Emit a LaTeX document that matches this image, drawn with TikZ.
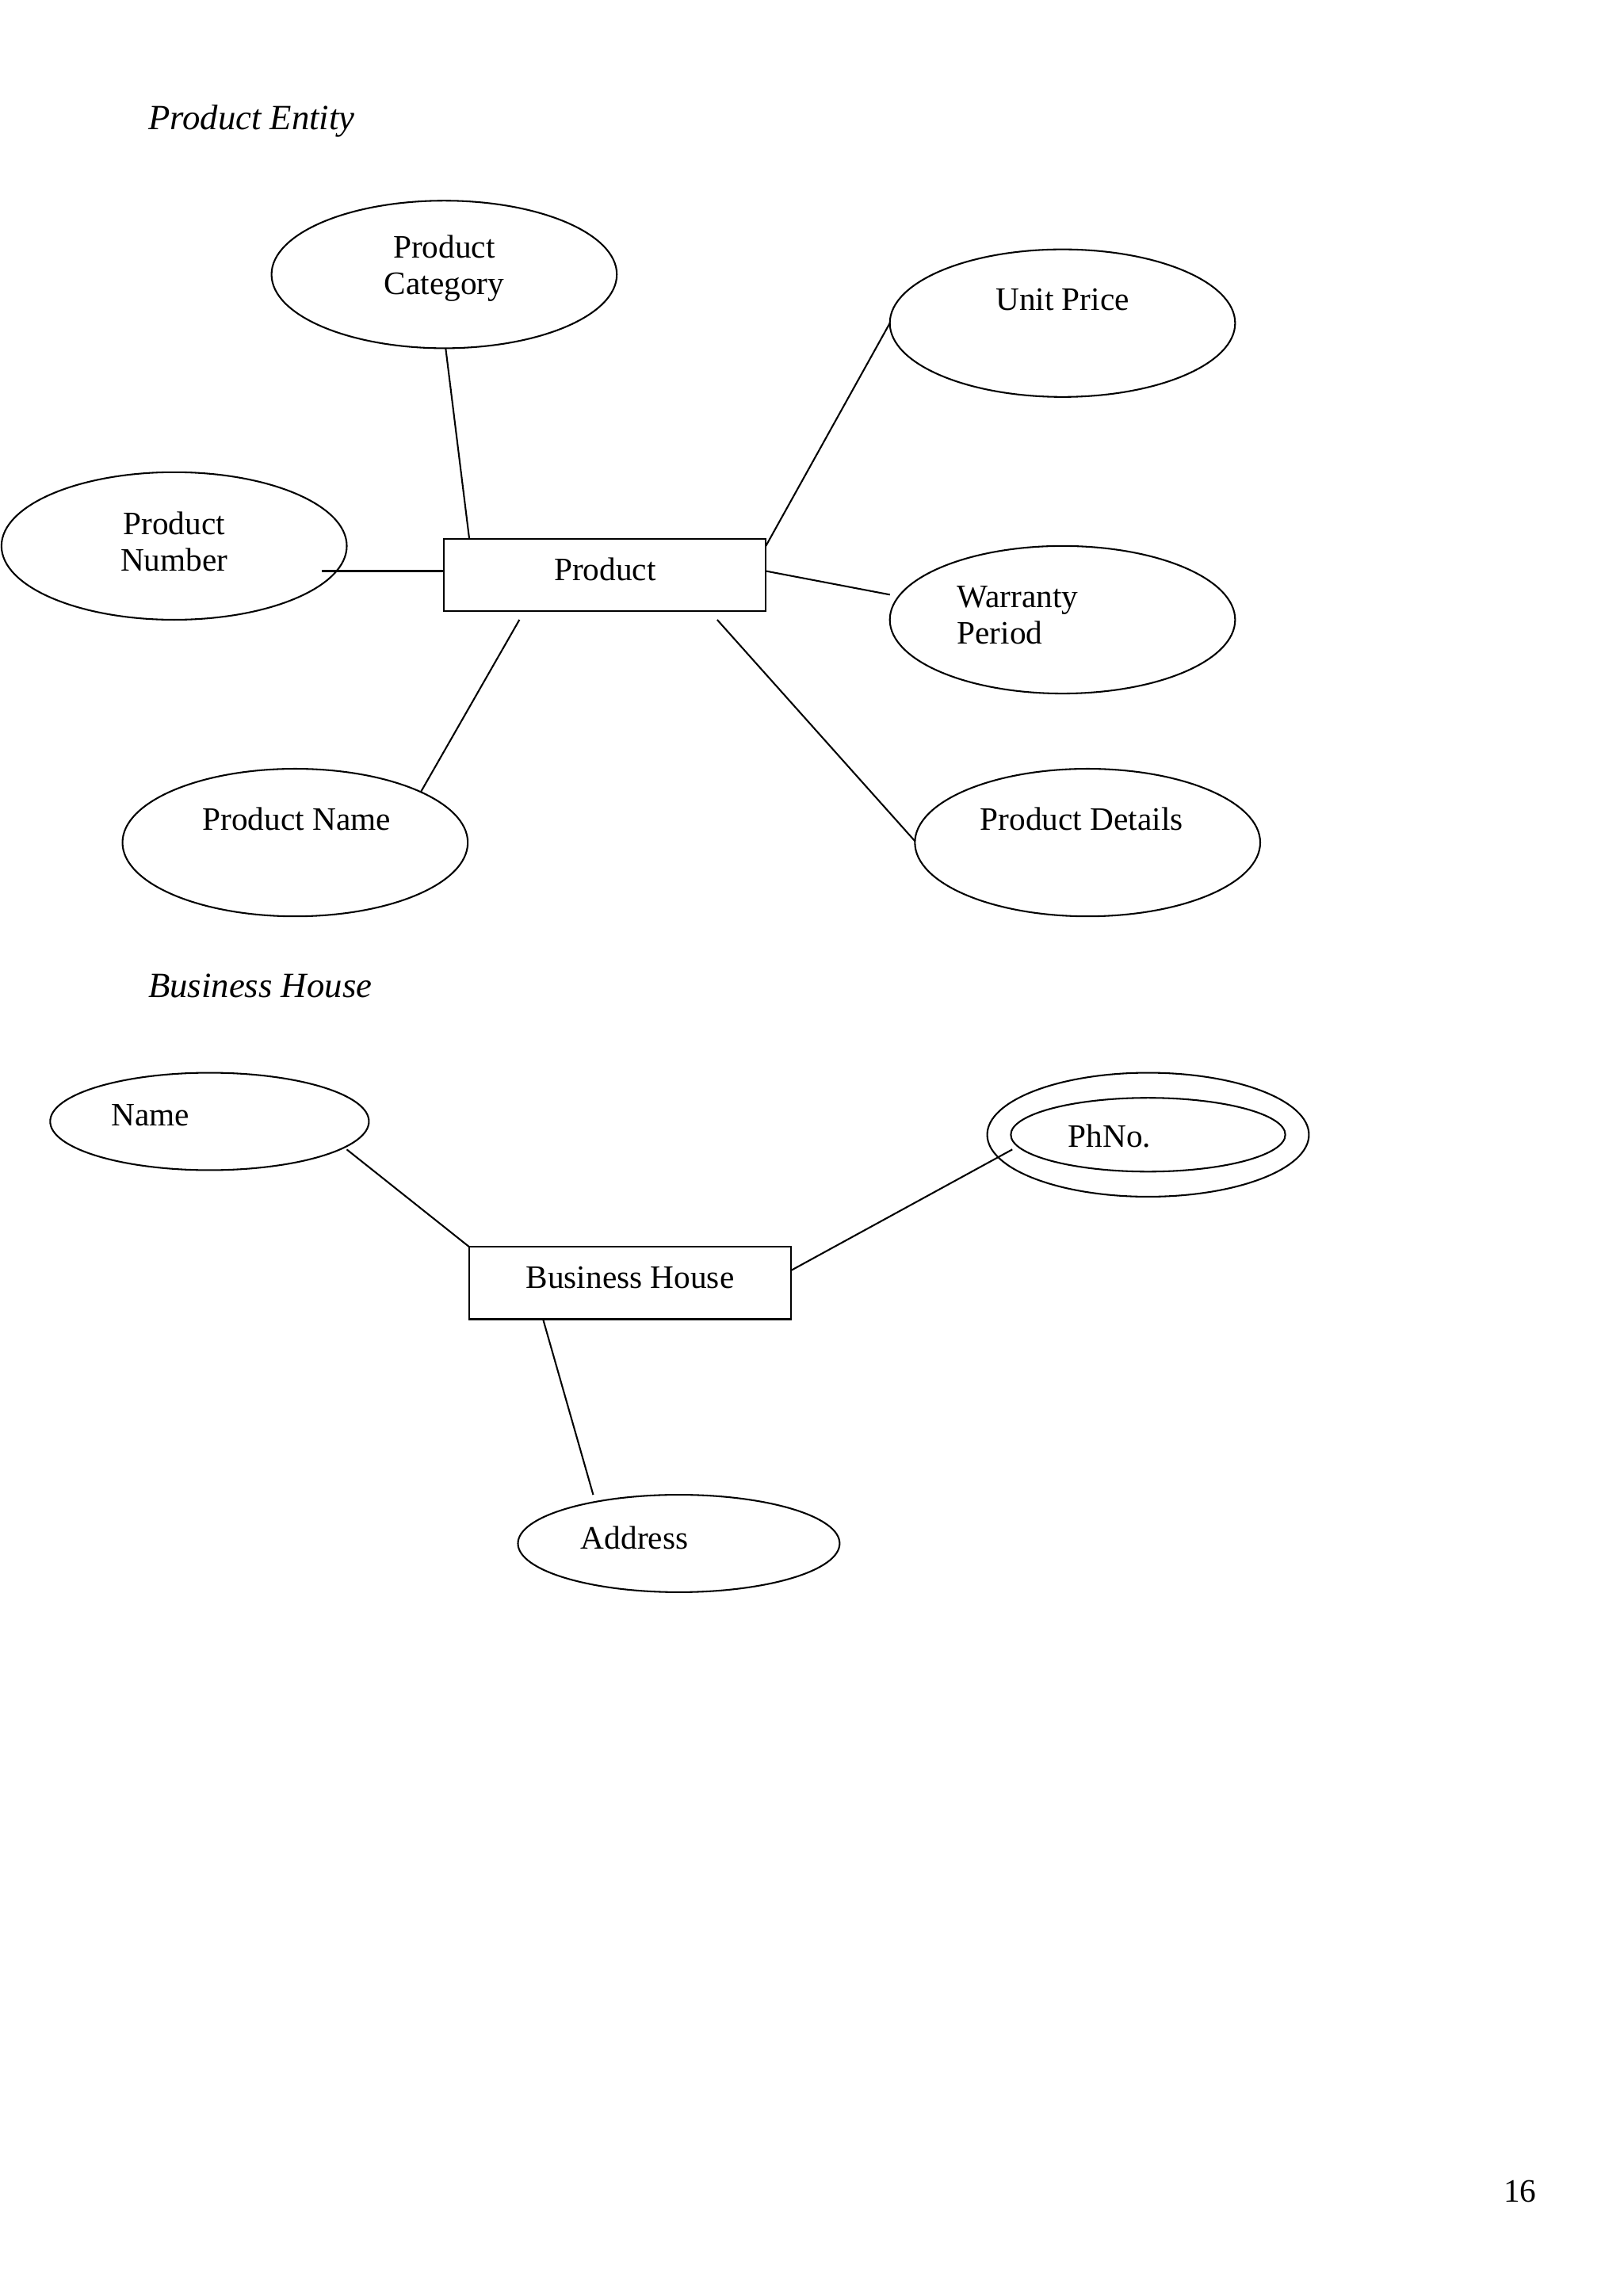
\documentclass[tikz,border=0pt]{standalone}
\usepackage{fontspec}
\setmainfont{Liberation Serif}
\usetikzlibrary{shapes.geometric}
\begin{document}
\begin{tikzpicture}[x=0.541pt,y=-0.541pt,line width=0.6pt,
  attr/.style={draw,ellipse,inner sep=0pt,minimum width=234*0.541pt,minimum height=100*0.541pt},
  ent/.style={draw,rectangle,inner sep=0pt,minimum width=218*0.541pt,minimum height=49*0.541pt},
  txt/.style={font=\fontsize{12}{13.5}\selectfont,inner sep=0pt,align=center},
  ttl/.style={font=\fontsize{13}{15}\selectfont\itshape,inner sep=0pt,anchor=west}]
\useasboundingbox (0,0) rectangle (1100,1556);
\node[ttl] (t1) at (100,82) {Product Entity};
\node[attr] (pc) at (301,186) {};
\node[txt] (pct) at (301,182) {Product\\Category};
\node[attr] (up) at (720,219) {};
\node[txt] (upt) at (720,203) {Unit Price};
\node[attr] (pn) at (118,370) {};
\node[txt] (pnt) at (118,367) {Product\\Number};
\node[ent] (p) at (410,389.5) {};
\node[txt] (pt) at (410,386) {Product};
\node[attr] (wp) at (720,420) {};
\node[txt,align=left,anchor=west] (wpt) at (648,417) {Warranty\\Period};
\node[attr] (pna) at (200,571) {};
\node[txt] (pnat) at (201,555) {Product Name};
\node[attr] (pd) at (737,571) {};
\node[txt] (pdt) at (733,555) {Product Details};
\coordinate (a1) at (302,236); \coordinate (b1) at (318,365);
\coordinate (a2) at (603,219); \coordinate (b2) at (519,370);
\coordinate (a3) at (218,387); \coordinate (b3) at (301,387);
\coordinate (a4) at (519,387); \coordinate (b4) at (603,403);
\coordinate (a5) at (352,420); \coordinate (b5) at (285,537);
\coordinate (a6) at (486,420); \coordinate (b6) at (620,570);
\draw (a1)--(b1); \draw (a2)--(b2); \draw (a3)--(b3);
\draw (a4)--(b4); \draw (a5)--(b5); \draw (a6)--(b6);
\node[ttl] (t2) at (100,668) {Business House};
\node[attr,minimum width=216*0.541pt,minimum height=66*0.541pt] (nm) at (142,760) {};
\node[txt] (nmt) at (102,756) {Name};
\node[attr,minimum width=218*0.541pt,minimum height=84*0.541pt] (ph) at (778,769) {};
\node[attr,minimum width=186*0.541pt,minimum height=50*0.541pt] (phi) at (778,769) {};
\node[txt] (pht) at (752,770) {PhNo.};
\node[ent] (bh) at (427,869.5) {};
\node[txt] (bht) at (427,866) {Business House};
\node[attr,minimum width=218*0.541pt,minimum height=66*0.541pt] (ad) at (460,1046) {};
\node[txt] (adt) at (430,1042) {Address};
\coordinate (c1) at (235,779); \coordinate (d1) at (318,845);
\coordinate (c2) at (536,861); \coordinate (d2) at (686,779);
\coordinate (c3) at (368,894); \coordinate (d3) at (402,1013);
\draw (c1)--(d1); \draw (c2)--(d2); \draw (c3)--(d3);
\node[txt] (pg) at (1030,1485) {16};
\end{tikzpicture}
\end{document}
